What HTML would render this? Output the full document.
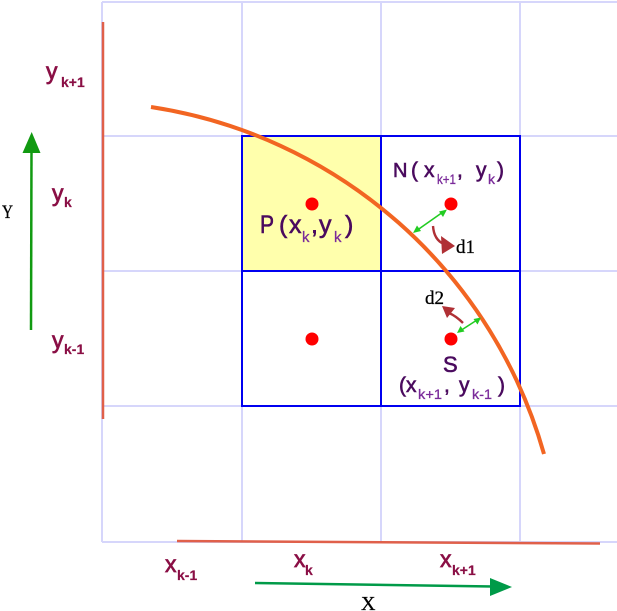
<!DOCTYPE html>
<html>
<head>
<meta charset="utf-8">
<style>
html,body{margin:0;padding:0;background:#fff;}
svg{display:block;}
.sans{font-family:"Liberation Sans","DejaVu Sans",sans-serif;}
.serif{font-family:"Liberation Serif","DejaVu Serif",serif;}
</style>
</head>
<body>
<svg width="617" height="611" viewBox="0 0 617 611" xmlns="http://www.w3.org/2000/svg">
  <rect x="0" y="0" width="617" height="611" fill="#ffffff"/>
  <!-- yellow cell -->
  <rect x="242" y="136" width="139" height="135" fill="#ffffac"/>
  <!-- grid -->
  <g stroke="#d6d6fb" stroke-width="2" fill="none">
    <line x1="102" y1="2" x2="617" y2="2"/>
    <line x1="102" y1="136" x2="617" y2="136"/>
    <line x1="102" y1="271" x2="617" y2="271"/>
    <line x1="102" y1="406" x2="617" y2="406"/>
    <line x1="102" y1="542" x2="617" y2="542"/>
    <line x1="102" y1="2" x2="102" y2="542"/>
    <line x1="242" y1="2" x2="242" y2="542"/>
    <line x1="381" y1="2" x2="381" y2="542"/>
    <line x1="520" y1="2" x2="520" y2="542"/>
  </g>
  <!-- blue boxes -->
  <g stroke="#0000f0" stroke-width="2" fill="none">
    <rect x="242" y="136" width="278" height="270"/>
    <line x1="381" y1="136" x2="381" y2="406"/>
    <line x1="242" y1="271" x2="520" y2="271"/>
  </g>
  <!-- red axes -->
  <line x1="103" y1="22" x2="103" y2="419" stroke="#e0604a" stroke-width="2.5"/>
  <line x1="177" y1="541" x2="600" y2="543.5" stroke="#e0604a" stroke-width="2.5"/>
  <!-- curve -->
  <path d="M151,107 A484,484 0 0 1 544,454" stroke="#f26522" stroke-width="4" fill="none"/>
  <!-- dots -->
  <g fill="#ff0000">
    <circle cx="312" cy="204" r="6.5"/>
    <circle cx="451" cy="204" r="6.5"/>
    <circle cx="312" cy="339" r="6.5"/>
    <circle cx="451" cy="339" r="6.5"/>
  </g>
  <!-- green Y arrow -->
  <line x1="31" y1="330" x2="31.5" y2="150" stroke="#119a11" stroke-width="2.5"/>
  <polygon points="31.7,132 22.5,153 40.5,153" fill="#119a11"/>
  <!-- green X arrow -->
  <line x1="255" y1="583" x2="493" y2="586.5" stroke="#009a48" stroke-width="2.5"/>
  <polygon points="512,587 490,578 490,596" fill="#009a48"/>
  <!-- d arrows green double -->
  <g stroke="#22cc22" stroke-width="1.6" fill="#22cc22">
    <line x1="416" y1="231" x2="443" y2="212"/>
    <polygon points="413,233 417,225.5 421,231" stroke="none"/>
    <polygon points="447,209.5 443,217 439,211.5" stroke="none"/>
    <line x1="460" y1="331" x2="477" y2="320"/>
    <polygon points="457,333 460.5,326 464.5,331.5" stroke="none"/>
    <polygon points="481,317.5 477.5,324.5 473.5,319" stroke="none"/>
  </g>
  <!-- brown curved arrows -->
  <path d="M433,226 Q434,240 444,244" stroke="#b03035" stroke-width="2.4" fill="none"/>
  <polygon points="455,246 441,236 442,254" fill="#b03035"/>
  <path d="M463,323 Q456,316 449,313" stroke="#b03035" stroke-width="2.4" fill="none"/>
  <polygon points="442,306 455,308 447,318" fill="#b03035"/>
  <!-- serif labels -->
  <g class="serif" fill="#000" stroke="#000" stroke-width="0.3">
    <text x="456" y="253" font-size="19">d1</text>
    <text x="425" y="304" font-size="19">d2</text>
    <text x="2" y="218" font-size="19" textLength="11" lengthAdjust="spacingAndGlyphs">Y</text>
    <text x="361" y="610" font-size="20">X</text>
  </g>
  <!-- axis labels maroon -->
  <g class="sans" fill="#8a0f45" stroke="#8a0f45" stroke-width="0.7">
    <text x="46" y="79" font-size="23">y</text>
    <text x="61" y="87" font-size="14" font-weight="bold" stroke-width="0.2">k+1</text>
    <text x="52" y="201" font-size="23">y</text>
    <text x="64" y="207" font-size="14" font-weight="bold" stroke-width="0.2">k</text>
    <text x="52" y="348" font-size="23">y</text>
    <text x="64" y="354" font-size="14" font-weight="bold" stroke-width="0.2">k-1</text>
    <text x="165" y="572" font-size="23">x</text>
    <text x="177" y="580" font-size="14" font-weight="bold" stroke-width="0.2">k-1</text>
    <text x="294" y="567" font-size="23">x</text>
    <text x="305" y="575" font-size="14" font-weight="bold" stroke-width="0.2">k</text>
    <text x="440" y="567" font-size="23">x</text>
    <text x="452" y="575" font-size="14" font-weight="bold" stroke-width="0.2">k+1</text>
  </g>
  <!-- P label -->
  <g class="sans" fill="#4a0a5e" stroke="#4a0a5e" stroke-width="0.6">
    <text x="260" y="233" font-size="25" textLength="14" lengthAdjust="spacingAndGlyphs">P</text>
    <text x="279" y="233" font-size="25">(</text>
    <text x="289" y="233" font-size="25">x</text>
    <text x="311" y="233" font-size="25">,</text>
    <text x="319" y="233" font-size="25">y</text>
    <text x="345" y="233" font-size="25">)</text>
  </g>
  <g class="sans" fill="#7a2a9a" stroke="#7a2a9a" stroke-width="0.3">
    <text x="302" y="242" font-size="15">k</text>
    <text x="334" y="242" font-size="15">k</text>
  </g>
  <!-- N label -->
  <g class="sans" fill="#4a0a5e" stroke="#4a0a5e" stroke-width="0.6">
    <text x="393" y="177" font-size="20">N</text>
    <text x="411" y="177" font-size="21">(</text>
    <text x="424" y="177" font-size="21">x</text>
    <text x="457" y="177" font-size="21">,</text>
    <text x="476" y="177" font-size="21">y</text>
    <text x="497" y="177" font-size="21">)</text>
  </g>
  <g class="sans" fill="#7a2a9a" stroke="#7a2a9a" stroke-width="0.3">
    <text x="437" y="184" font-size="14" textLength="19" lengthAdjust="spacingAndGlyphs">k+1</text>
    <text x="488" y="184" font-size="14">k</text>
  </g>
  <!-- S label -->
  <g class="sans" fill="#4a0a5e" stroke="#4a0a5e" stroke-width="0.6">
    <text x="443" y="372" font-size="22">S</text>
    <text x="399" y="392" font-size="21">(</text>
    <text x="406" y="392" font-size="21">x</text>
    <text x="444" y="392" font-size="21">,</text>
    <text x="459" y="392" font-size="21">y</text>
    <text x="498" y="392" font-size="21">)</text>
  </g>
  <g class="sans" fill="#7a2a9a" stroke="#7a2a9a" stroke-width="0.3">
    <text x="418" y="399" font-size="14" textLength="24" lengthAdjust="spacingAndGlyphs">k+1</text>
    <text x="472" y="399" font-size="14" textLength="20" lengthAdjust="spacingAndGlyphs">k-1</text>
  </g>
</svg>
</body>
</html>
